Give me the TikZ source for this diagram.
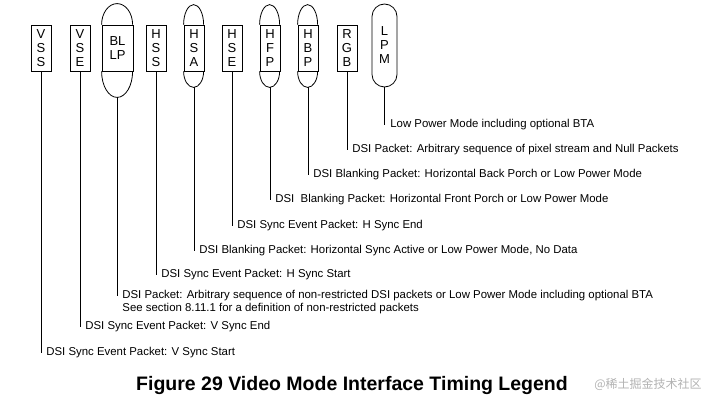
\documentclass[tikz,border=0pt]{standalone}
\usepackage{fontspec}
\setmainfont{Liberation Sans}
\newfontfamily\cjk{Noto Sans CJK SC}
\begin{document}
\begin{tikzpicture}[x=1pt,y=-1pt,line width=0.8pt,
  bx/.style={draw,minimum width=20pt,minimum height=46pt,inner sep=0pt,font=\fontsize{13}{14}\selectfont,align=center},
  lbl/.style={anchor=west,inner sep=0pt,font=\fontsize{11.4}{13}\selectfont,align=left},
  conn/.style={draw,line width=0.7pt}]
\useasboundingbox (0,0) rectangle (711,406);
% rectangular boxes
\node[bx] (vss) at (41,48) {V\\S\\S};
\node[bx] (vse) at (80,48) {V\\S\\E};
\node[bx] (hss) at (156,48) {H\\S\\S};
\node[bx] (hse) at (232,48) {H\\S\\E};
\node[bx] (rgb) at (347,48) {R\\G\\B};
% capsule boxes (body)
\node[bx,minimum width=31pt] (bllp) at (117.5,48) {BL\\LP};
\node[bx] (hsa) at (194,48) {H\\S\\A};
\node[bx] (hfp) at (270,48) {H\\F\\P};
\node[bx] (hbp) at (308,48) {H\\B\\P};
\node[draw,rounded corners=12.5pt,minimum width=25pt,minimum height=83pt,inner sep=0pt,font=\fontsize{13}{14}\selectfont,align=center] (lpm) at (384.5,45.5) {L\\P\\M};
% caps
\draw (bllp.north west) arc[start angle=180,end angle=0,x radius=15.5pt,y radius=21pt];
\draw (bllp.south west) arc[start angle=180,end angle=360,x radius=15.5pt,y radius=26pt];
\foreach \n in {hsa,hfp,hbp}{
 \draw (\n.north west) arc[start angle=180,end angle=0,x radius=10pt,y radius=20pt];
 \draw (\n.south west) arc[start angle=180,end angle=360,x radius=10pt,y radius=16pt];}
\coordinate (bllpb) at (117.5,97);
\coordinate (hsab) at (194,87);
\coordinate (hfpb) at (270,87);
\coordinate (hbpb) at (308,87);
% labels
\node[lbl] (tlpm) at (390,125) {Low Power Mode including optional BTA};
\node[lbl] (trgb) at (352,150) {DSI Packet: Arbitrary sequence of pixel stream and Null Packets};
\node[lbl] (thbp) at (313,175) {DSI Blanking Packet: Horizontal Back Porch or Low Power Mode};
\node[lbl] (thfp) at (275,200) {DSI\ \ Blanking Packet: Horizontal Front Porch or Low Power Mode};
\node[lbl] (thse) at (237,226) {DSI Sync Event Packet: H Sync End};
\node[lbl] (thsa) at (199,251) {DSI Blanking Packet: Horizontal Sync Active or Low Power Mode, No Data};
\node[lbl] (thss) at (161,275) {DSI Sync Event Packet: H Sync Start};
\node[lbl,anchor=north west] (tbllp) at (122,290) {DSI Packet: Arbitrary sequence of non-restricted DSI packets or Low Power Mode including optional BTA\\See section 8.11.1 for a definition of non-restricted packets};
\node[lbl] (tvse) at (85,327) {DSI Sync Event Packet: V Sync End};
\node[lbl] (tvss) at (46,353) {DSI Sync Event Packet: V Sync Start};
% connectors
\draw[conn] (lpm.south) -- (lpm.south |- tlpm.west);
\draw[conn] (rgb.south) -- (rgb.south |- trgb.west);
\draw[conn] (hbpb) -- (hbpb |- thbp.west);
\draw[conn] (hfpb) -- (hfpb |- thfp.west);
\draw[conn] (hse.south) -- (hse.south |- thse.west);
\draw[conn] (hsab) -- (hsab |- thsa.west);
\draw[conn] (hss.south) -- (hss.south |- thss.west);
\draw[conn] (bllpb) -- (bllpb |- 0,296);
\draw[conn] (vse.south) -- (vse.south |- tvse.west);
\draw[conn] (vss.south) -- (vss.south |- tvss.west);
% title
\node[font=\bfseries\fontsize{19.5}{22}\selectfont,inner sep=0pt] (title) at (352,385) {Figure 29 Video Mode Interface Timing Legend};
\node[font=\cjk\fontsize{12}{14}\selectfont,text=gray!60,anchor=east,inner sep=0pt] (wm) at (702,384) {@稀土掘金技术社区};
\end{tikzpicture}
\end{document}
